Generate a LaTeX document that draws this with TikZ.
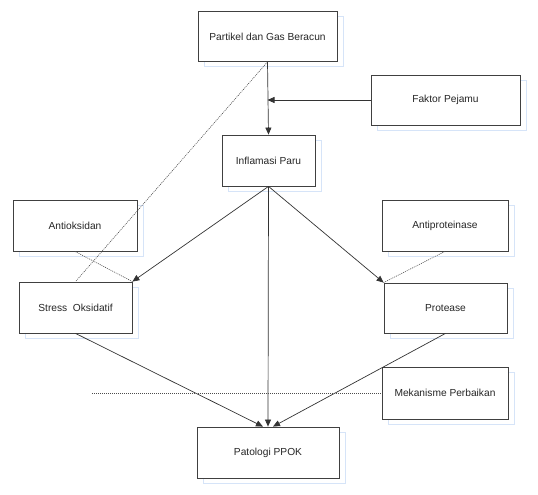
\documentclass[tikz,border=0pt]{standalone}
\usepackage{fontspec}
\setmainfont{Liberation Sans}
\usetikzlibrary{arrows.meta}
\definecolor{ghostblue}{RGB}{214,228,248}
\begin{document}
\begin{tikzpicture}[x=1pt,y=-1pt,
  box/.style={draw=black!75,line width=0.8pt,fill=white,inner sep=0pt,font=\fontsize{10.2}{12}\selectfont,text=black!85},
  ghost/.style={draw=ghostblue,line width=0.7pt},
  conn/.style={draw=black!80,line width=0.7pt},
  arr/.style={conn,-{Triangle[length=7pt,width=6pt]}},
  dotline/.style={draw=black!70,line width=0.6pt,dash pattern=on 1pt off 1pt}]
\useasboundingbox (0,0) rectangle (538,495);
% ghost shadows
\foreach \cx/\cy/\w/\h in {267.5/36.5/139/50, 445.5/100/149/50, 268.5/160.5/93/51, 75/225.5/124/51, 75.5/307.5/113/51, 445/225.5/126/51, 445.5/308/123/50, 445/393/126/52, 268/452.5/142/51}
  \draw[ghost] (\cx-\w/2+6,\cy-\h/2+5) rectangle (\cx+\w/2+6,\cy+\h/2+5);
\node[box,minimum width=139pt,minimum height=50pt] (partikel) at (267.5,36.5) {Partikel dan Gas Beracun};
\node[box,minimum width=149pt,minimum height=50pt] (faktor) at (445.5,100) {Faktor Pejamu};
\node[box,minimum width=93pt,minimum height=51pt] (inflamasi) at (268.5,160.5) {Inflamasi Paru};
\node[box,minimum width=124pt,minimum height=51pt] (antiok) at (75,225.5) {Antioksidan};
\node[box,minimum width=113pt,minimum height=51pt] (stress) at (75.5,307.5) {Stress~ Oksidatif};
\node[box,minimum width=126pt,minimum height=51pt] (antipro) at (445,225.5) {Antiproteinase};
\node[box,minimum width=123pt,minimum height=50pt] (protease) at (445.5,308) {Protease};
\node[box,minimum width=126pt,minimum height=52pt] (mekanisme) at (445,393) {Mekanisme Perbaikan};
\node[box,minimum width=142pt,minimum height=51pt] (patologi) at (268,452.5) {Patologi PPOK};
\coordinate (dl) at (92,393);
% connectors
\draw[arr] (partikel.south) -- (inflamasi.north);
\draw[arr] (faktor.west) -- (faktor.west -| partikel.south);
\draw[dotline] (partikel.south) -- (stress.north);
\draw[dotline] (antiok.south) -- (stress.north east);
\draw[dotline] (antipro.south) -- (protease.north west);
\draw[arr] (inflamasi.south) -- (stress.north east);
\draw[arr] (inflamasi.south) -- (protease.north west);
\draw[arr] (inflamasi.south) -- (patologi.north);
\draw[arr] (stress.south) -- ([xshift=-5pt]patologi.north);
\draw[arr] (protease.south) -- ([xshift=5pt]patologi.north);
\draw[dotline] (dl) -- (mekanisme.west);
\end{tikzpicture}
\end{document}
